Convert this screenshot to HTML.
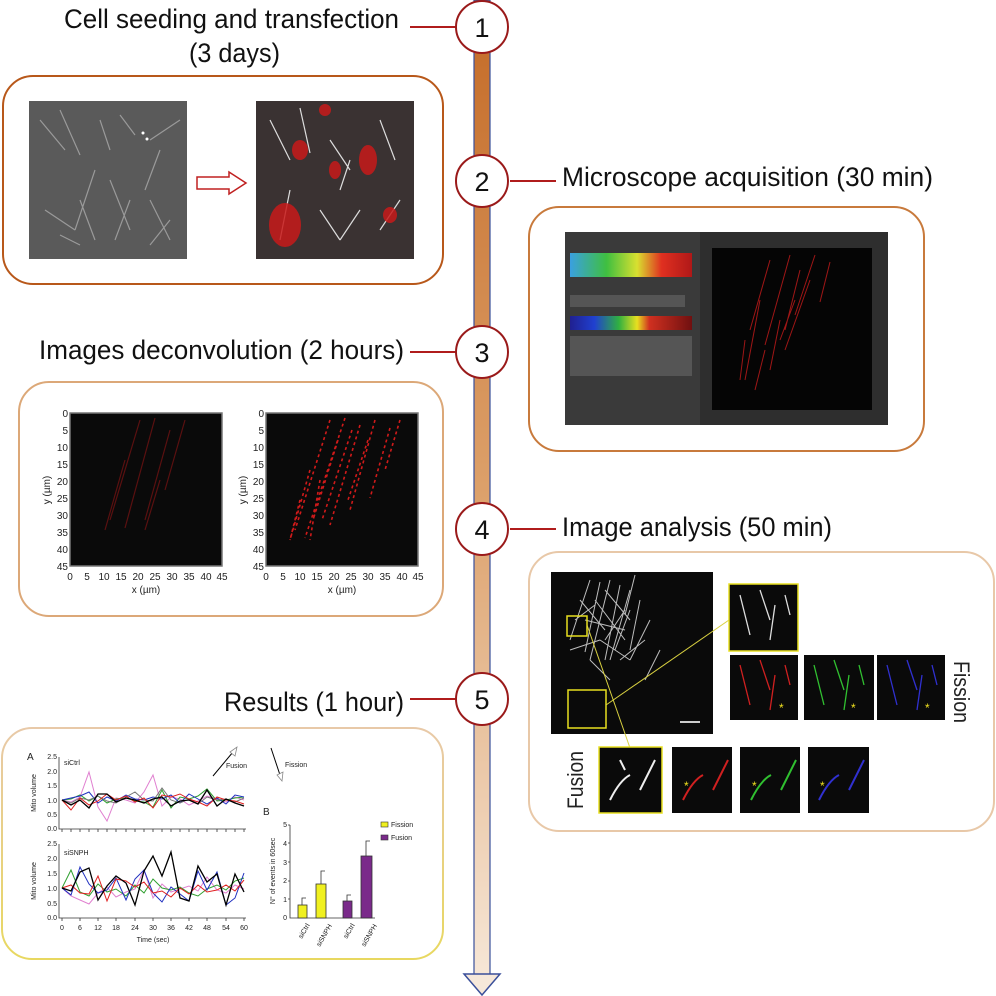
<!DOCTYPE html>
<html><head><meta charset="utf-8"><style>
html,body{margin:0;padding:0;background:#fff;width:996px;height:996px;overflow:hidden}
svg{display:block}
.t{font-family:"Liberation Sans Narrow","Liberation Sans",sans-serif;font-size:27px;fill:#111}
.s{font-family:"Liberation Sans",sans-serif;fill:#222}
</style></head><body>
<svg width="996" height="996" viewBox="0 0 996 996" xmlns="http://www.w3.org/2000/svg">
<defs>
<linearGradient id="sh" x1="0" y1="0" x2="0" y2="1"><stop offset="0" stop-color="#c46a26"/><stop offset="0.5" stop-color="#dca06a"/><stop offset="1" stop-color="#f6e6d6"/></linearGradient>
<linearGradient id="spec" x1="0" y1="0" x2="1" y2="0"><stop offset="0" stop-color="#3aa0e0"/><stop offset="0.3" stop-color="#3fbf40"/><stop offset="0.55" stop-color="#d8e030"/><stop offset="0.75" stop-color="#e03020"/><stop offset="1" stop-color="#b01818"/></linearGradient>
<linearGradient id="spec2" x1="0" y1="0" x2="1" y2="0"><stop offset="0" stop-color="#202090"/><stop offset="0.2" stop-color="#2040d0"/><stop offset="0.4" stop-color="#30b040"/><stop offset="0.55" stop-color="#e8e020"/><stop offset="0.65" stop-color="#d03020"/><stop offset="1" stop-color="#701010"/></linearGradient>
<linearGradient id="b5" x1="0" y1="0" x2="0" y2="1"><stop offset="0" stop-color="#e8c9a8"/><stop offset="1" stop-color="#e8d860"/></linearGradient>
</defs>

<rect x="474" y="0" width="16" height="975" fill="url(#sh)" stroke="#3a4f9a" stroke-width="1.2"/>
<polygon points="464,974 500,974 482,995" fill="#f6e8da" stroke="#3a4f9a" stroke-width="1.5"/>

<g stroke="#b01c1c" stroke-width="2">
<line x1="410" y1="27" x2="456" y2="27"/>
<line x1="510" y1="181" x2="556" y2="181"/>
<line x1="410" y1="352" x2="456" y2="352"/>
<line x1="510" y1="529" x2="556" y2="529"/>
<line x1="410" y1="699" x2="456" y2="699"/>
</g>
<g fill="#fff" stroke="#9a1a1a" stroke-width="2">
<circle cx="482" cy="27" r="26"/><circle cx="482" cy="181" r="26"/><circle cx="482" cy="352" r="26"/><circle cx="482" cy="529" r="26"/><circle cx="482" cy="699" r="26"/>
</g>
<g class="t" text-anchor="middle" font-size="28">
<text x="482" y="37">1</text><text x="482" y="191">2</text><text x="482" y="362">3</text><text x="482" y="539">4</text><text x="482" y="709">5</text>
</g>

<text class="t" x="64" y="28" textLength="335" lengthAdjust="spacingAndGlyphs">Cell seeding and transfection</text>
<text class="t" x="189" y="62" textLength="91" lengthAdjust="spacingAndGlyphs">(3 days)</text>
<text class="t" x="562" y="186" textLength="371" lengthAdjust="spacingAndGlyphs">Microscope acquisition (30 min)</text>
<text class="t" x="39" y="359" textLength="365" lengthAdjust="spacingAndGlyphs">Images deconvolution (2 hours)</text>
<text class="t" x="562" y="536" textLength="270" lengthAdjust="spacingAndGlyphs">Image analysis (50 min)</text>
<text class="t" x="224" y="711" textLength="180" lengthAdjust="spacingAndGlyphs">Results (1 hour)</text>

<rect x="3" y="76" width="440" height="208" rx="30" fill="#fff" stroke="#b8581a" stroke-width="2"/>
<rect x="529" y="207" width="395" height="244" rx="30" fill="#fff" stroke="#c87a3c" stroke-width="2"/>
<rect x="19" y="382" width="424" height="234" rx="30" fill="#fff" stroke="#dca878" stroke-width="2"/>
<rect x="529" y="552" width="465" height="279" rx="30" fill="#fff" stroke="#e8c8a8" stroke-width="2"/>
<rect x="2" y="728" width="441" height="231" rx="30" fill="#fff" stroke="url(#b5)" stroke-width="2"/>

<rect x="29" y="101" width="158" height="158" fill="#5a5a5a"/>
<g stroke="#aaa" stroke-width="1.2" fill="none" opacity="0.8">
<path d="M40 120 l25 30 M60 110 l20 45 M95 170 l-20 60 M110 180 l20 50 M150 140 l30 -20 M150 200 l20 40 M45 210 l30 20 M120 115 l15 20 M80 200 l15 40 M160 150 l-15 40 M60 235 l20 10 M100 120 l10 30 M130 200 l-15 40 M170 220 l-20 25"/>
</g>
<circle cx="143" cy="133" r="1.5" fill="#fff"/><circle cx="147" cy="139" r="1.5" fill="#fff"/>
<polygon points="197,177 229,177 229,172 246,183 229,194 229,189 197,189" fill="#fff" stroke="#c02020" stroke-width="1.5"/>
<rect x="256" y="101" width="158" height="158" fill="#3a3232"/>
<g stroke="#ddd" stroke-width="1.2" fill="none">
<path d="M270 120 l20 40 M300 108 l10 45 M330 140 l20 30 M350 160 l-10 30 M380 120 l15 40 M320 210 l20 30 M360 210 l-20 30 M290 190 l-10 50 M400 200 l-20 30"/>
</g>
<g fill="#c81a1a" opacity="0.85">
<ellipse cx="285" cy="225" rx="16" ry="22"/><ellipse cx="368" cy="160" rx="9" ry="15"/><ellipse cx="300" cy="150" rx="8" ry="10"/><ellipse cx="335" cy="170" rx="6" ry="9"/><ellipse cx="390" cy="215" rx="7" ry="8"/><ellipse cx="325" cy="110" rx="6" ry="6"/>
</g>

<rect x="565" y="232" width="323" height="193" fill="#2e2e2e"/>
<rect x="565" y="232" width="135" height="193" fill="#3a3a3a"/>
<rect x="570" y="253" width="122" height="24" fill="url(#spec)"/>
<rect x="570" y="316" width="122" height="14" fill="url(#spec2)"/>
<g fill="#555"><rect x="570" y="295" width="115" height="12"/><rect x="570" y="336" width="122" height="40"/></g>
<rect x="712" y="248" width="160" height="162" fill="#050505"/>
<g stroke="#b01818" stroke-width="1" fill="none" opacity="0.9">
<path d="M770 260 l-20 70 M790 255 l-25 90 M800 270 l-15 60 M815 255 l-20 60 M830 262 l-10 40 M760 300 l-15 80 M780 320 l-10 50 M745 340 l-5 40 M795 300 l-15 40 M810 280 l-25 70 M765 350 l-10 40"/>
</g>

<g class="s" font-size="10" text-anchor="end">
<g id="yl">
<text x="68" y="417">0</text><text x="68" y="434">5</text><text x="68" y="451">10</text><text x="68" y="468">15</text><text x="68" y="485">20</text><text x="68" y="502">25</text><text x="68" y="519">30</text><text x="68" y="536">35</text><text x="68" y="553">40</text><text x="68" y="570">45</text>
</g>
<use href="#yl" x="196"/>
</g>
<text class="s" font-size="10" transform="translate(50,490) rotate(-90)" text-anchor="middle">y (µm)</text>
<text class="s" font-size="10" transform="translate(246,490) rotate(-90)" text-anchor="middle">y (µm)</text>
<rect x="70" y="413" width="152" height="153" fill="#0a0a0a" stroke="#777" stroke-width="1.5"/>
<rect x="266" y="413" width="152" height="153" fill="#0a0a0a" stroke="#777" stroke-width="1.5"/>
<g stroke="#5a1010" stroke-width="1.2" fill="none">
<path d="M140 420 l-30 100 M155 418 l-30 110 M170 430 l-25 90 M185 420 l-20 70 M125 460 l-20 70 M160 480 l-15 50"/>
</g>
<g stroke="#d01a1a" stroke-width="1.6" fill="none" stroke-dasharray="3 3">
<path d="M330 420 l-35 110 M345 418 l-40 120 M360 425 l-30 100 M375 420 l-25 90 M390 428 l-20 70 M310 470 l-20 70 M320 480 l-10 60 M400 420 l-15 50 M300 500 l-10 40 M352 430 l-30 90 M368 440 l-20 60 M338 440 l-25 80"/>
</g>
<g class="s" font-size="10" text-anchor="middle">
<g id="xl"><text x="70" y="580">0</text><text x="87" y="580">5</text><text x="104" y="580">10</text><text x="121" y="580">15</text><text x="138" y="580">20</text><text x="155" y="580">25</text><text x="172" y="580">30</text><text x="189" y="580">35</text><text x="206" y="580">40</text><text x="222" y="580">45</text>
<text x="146" y="593">x (µm)</text></g>
<use href="#xl" x="196"/>
</g>

<rect x="551" y="572" width="162" height="162" fill="#0a0a0a"/>
<g stroke="#ddd" stroke-width="1" fill="none" opacity="0.85">
<path d="M590 580 l-20 60 M600 582 l-15 70 M610 580 l-20 80 M620 585 l-15 75 M630 590 l-20 70 M640 600 l-10 50 M580 600 l25 30 M570 650 l30 -10 M600 640 l30 20 M585 620 l40 10 M650 620 l-20 40 M595 600 l30 40 M615 650 l15 -40 M605 590 l25 30 M625 610 l-20 30 M645 640 l-25 20 M590 660 l20 20 M660 650 l-15 30 M575 620 l20 -15 M635 575 l-10 40"/>
</g>
<rect x="567" y="616" width="20" height="20" fill="none" stroke="#e8e020" stroke-width="1.5"/>
<rect x="568" y="690" width="38" height="38" fill="none" stroke="#e8e020" stroke-width="1.5"/>
<line x1="587" y1="625" x2="630" y2="748" stroke="#d8d040" stroke-width="1"/>
<line x1="606" y1="705" x2="729" y2="620" stroke="#d8d040" stroke-width="1"/>
<rect x="680" y="721" width="20" height="2" fill="#ccc"/>
<rect x="729" y="584" width="69" height="67" fill="#0a0a0a" stroke="#e8e020" stroke-width="1.5"/>
<g stroke="#ddd" stroke-width="1.3" fill="none"><path d="M740 595 l10 40 M760 590 l10 30 M775 605 l-5 35 M785 595 l5 20"/></g>
<rect x="730" y="655" width="68" height="65" fill="#0a0a0a"/>
<rect x="804" y="655" width="70" height="65" fill="#0a0a0a"/>
<rect x="877" y="655" width="68" height="65" fill="#0a0a0a"/>
<g fill="none" stroke-width="1.3">
<path stroke="#d02020" d="M740 665 l10 40 M760 660 l10 30 M775 675 l-5 35 M785 665 l5 20"/>
<path stroke="#30c030" d="M814 665 l10 40 M834 660 l10 30 M849 675 l-5 35 M859 665 l5 20"/>
<path stroke="#3030d0" d="M887 665 l10 40 M907 660 l10 30 M922 675 l-5 35 M932 665 l5 20"/>
</g>
<g fill="#f0e020" font-size="12" font-family="Liberation Sans,sans-serif"><text x="779" y="712">*</text><text x="851" y="712">*</text><text x="925" y="712">*</text></g>
<rect x="599" y="747" width="63" height="66" fill="#0a0a0a" stroke="#e8e020" stroke-width="1.5"/>
<rect x="672" y="747" width="60" height="66" fill="#0a0a0a"/>
<rect x="740" y="747" width="60" height="66" fill="#0a0a0a"/>
<rect x="808" y="747" width="61" height="66" fill="#0a0a0a"/>
<g fill="none" stroke-width="2">
<path stroke="#eee" d="M610 800 q10 -20 20 -25 M640 790 l15 -30 M620 760 l5 10"/>
<path stroke="#d02020" d="M683 800 q10 -20 20 -25 M713 790 l15 -30"/>
<path stroke="#30c030" d="M751 800 q10 -20 20 -25 M781 790 l15 -30"/>
<path stroke="#3030d0" d="M819 800 q10 -20 20 -25 M849 790 l15 -30"/>
</g>
<g fill="#f0e020" font-size="12" font-family="Liberation Sans,sans-serif"><text x="684" y="790">*</text><text x="752" y="790">*</text><text x="820" y="790">*</text></g>
<text class="s" font-size="22" fill="#111" transform="translate(954,661) rotate(90)" textLength="62" lengthAdjust="spacingAndGlyphs">Fission</text>
<text class="s" font-size="22" fill="#111" transform="translate(583,809) rotate(-90)" textLength="58" lengthAdjust="spacingAndGlyphs">Fusion</text>

<g class="s" font-size="7">
<text x="27" y="760" font-size="10">A</text>
<text x="64" y="765">siCtrl</text><text x="64" y="855">siSNPH</text>
<g text-anchor="end">
<text x="57" y="759">2.5</text><text x="57" y="774">2.0</text><text x="57" y="788">1.5</text><text x="57" y="803">1.0</text><text x="57" y="817">0.5</text><text x="57" y="831">0.0</text>
<text x="57" y="846">2.5</text><text x="57" y="861">2.0</text><text x="57" y="876">1.5</text><text x="57" y="891">1.0</text><text x="57" y="906">0.5</text><text x="57" y="920">0.0</text>
</g>
<text transform="translate(36,793) rotate(-90)" text-anchor="middle">Mito volume</text>
<text transform="translate(36,881) rotate(-90)" text-anchor="middle">Mito volume</text>
<g text-anchor="middle"><text x="62" y="930">0</text><text x="80" y="930">6</text><text x="98" y="930">12</text><text x="116" y="930">18</text><text x="135" y="930">24</text><text x="153" y="930">30</text><text x="171" y="930">36</text><text x="189" y="930">42</text><text x="207" y="930">48</text><text x="226" y="930">54</text><text x="244" y="930">60</text>
<text x="153" y="942">Time (sec)</text></g>
</g>
<g stroke="#333" stroke-width="0.8" fill="none">
<path d="M59 757 V829 H246 M59 844 V918 H246"/>
<path d="M62 829 v3 M71 829 v3 M80 829 v3 M89 829 v3 M98 829 v3 M107 829 v3 M116 829 v3 M126 829 v3 M135 829 v3 M144 829 v3 M153 829 v3 M162 829 v3 M171 829 v3 M180 829 v3 M189 829 v3 M198 829 v3 M207 829 v3 M217 829 v3 M226 829 v3 M235 829 v3 M244 829 v3"/>
<path d="M62 918 v3 M80 918 v3 M98 918 v3 M116 918 v3 M135 918 v3 M153 918 v3 M171 918 v3 M189 918 v3 M207 918 v3 M226 918 v3 M244 918 v3"/>
</g>
<g fill="none" stroke-width="1">
<polyline stroke="#e080d0" points="62,800 71,802 80,797 89,772 98,807 107,821 116,798 126,800 135,803 144,792 153,775 162,806 171,797 180,799 189,805 198,801 207,796 217,799 226,802 235,797 244,800"/>
<polyline stroke="#30a030" points="62,800 71,799 80,795 89,801 98,796 107,803 116,799 126,798 135,801 144,802 153,807 162,790 171,808 180,797 189,799 198,796 207,789 217,801 226,800 235,798 244,797"/>
<polyline stroke="#2030c0" points="62,800 71,798 80,796 89,792 98,803 107,797 116,801 126,795 135,799 144,800 153,797 162,799 171,795 180,803 189,794 198,799 207,804 217,798 226,804 235,795 244,797"/>
<polyline stroke="#777" points="62,800 71,803 80,798 89,800 98,796 107,801 116,803 126,797 135,792 144,800 153,801 162,788 171,800 180,803 189,799 198,804 207,797 217,800 226,799 235,802 244,798"/>
<polyline stroke="#e02020" points="62,800 71,810 80,798 89,805 98,801 107,794 116,800 126,796 135,802 144,798 153,808 162,795 171,797 180,794 189,799 198,802 207,806 217,797 226,800 235,801 244,804"/>
<polyline stroke="#000" stroke-width="1.3" points="62,800 71,805 80,800 89,808 98,794 107,794 116,802 126,798 135,800 144,803 153,799 162,797 171,806 180,801 189,800 198,804 207,790 217,806 226,799 235,803 244,806"/>
<polyline stroke="#e080d0" points="62,888 71,896 80,900 89,904 98,893 107,887 116,897 126,892 135,889 144,870 153,898 162,884 171,892 180,889 189,886 198,891 207,877 217,890 226,893 235,885 244,889"/>
<polyline stroke="#30a030" points="62,888 71,870 80,892 89,896 98,884 107,892 116,889 126,896 135,885 144,893 153,879 162,888 171,890 180,887 189,893 198,896 207,889 217,885 226,890 235,881 244,878"/>
<polyline stroke="#2030c0" points="62,888 71,895 80,867 89,884 98,893 107,890 116,878 126,900 135,879 144,870 153,893 162,902 171,887 180,894 189,901 198,871 207,890 217,872 226,905 235,898 244,873"/>
<polyline stroke="#e02020" points="62,888 71,885 80,893 89,894 98,876 107,901 116,879 126,881 135,887 144,882 153,893 162,891 171,897 180,888 189,894 198,885 207,892 217,890 226,885 235,891 244,880"/>
<polyline stroke="#000" stroke-width="1.3" points="62,888 71,891 80,872 89,868 98,900 107,886 116,876 126,883 135,905 144,871 153,856 162,876 171,852 180,898 189,901 198,866 207,882 217,874 226,905 235,874 244,892"/>
</g>
<g stroke="#000" stroke-width="1"><line x1="213" y1="776" x2="233" y2="752"/><line x1="271" y1="748" x2="280" y2="775"/></g>
<polygon points="230,752 237,747 235,756" fill="#fff" stroke="#888" stroke-width="0.8"/>
<polygon points="277,775 282,781 283,772" fill="#fff" stroke="#888" stroke-width="0.8"/>
<g class="s" font-size="7"><text x="226" y="768">Fusion</text><text x="285" y="767">Fission</text></g>
<g class="s" font-size="7">
<text x="263" y="815" font-size="10">B</text>
<g text-anchor="end"><text x="287" y="827">5</text><text x="287" y="846">4</text><text x="287" y="865">3</text><text x="287" y="883">2</text><text x="287" y="902">1</text><text x="287" y="920">0</text></g>
<text transform="translate(275,871) rotate(-90)" text-anchor="middle">N° of events in 60sec</text>
<text transform="translate(302,939) rotate(-60)">siCtrl</text>
<text transform="translate(320,947) rotate(-60)">siSNPH</text>
<text transform="translate(347,939) rotate(-60)">siCtrl</text>
<text transform="translate(365,947) rotate(-60)">siSNPH</text>
<text x="391" y="827">Fission</text><text x="391" y="840">Fusion</text>
</g>
<rect x="381" y="822" width="7" height="5" fill="#f0f020" stroke="#333" stroke-width="0.6"/>
<rect x="381" y="835" width="7" height="5" fill="#7a2a8a" stroke="#333" stroke-width="0.6"/>
<g stroke="#333" stroke-width="0.8">
<path d="M290 825 V918 H375 M290 825 h-2 M290 843 h-2 M290 862 h-2 M290 881 h-2 M290 899 h-2" fill="none"/>
<rect x="298" y="905" width="9" height="13" fill="#f0f020"/>
<rect x="316" y="884" width="10" height="34" fill="#f0f020"/>
<rect x="343" y="901" width="9" height="17" fill="#7a2a8a"/>
<rect x="361" y="856" width="11" height="62" fill="#7a2a8a"/>
<path d="M302 905 v-7 h4 M321 884 v-13 h4 M347 901 v-6 h4 M366 856 v-15 h4" fill="none"/>
</g>
</svg>
</body></html>
